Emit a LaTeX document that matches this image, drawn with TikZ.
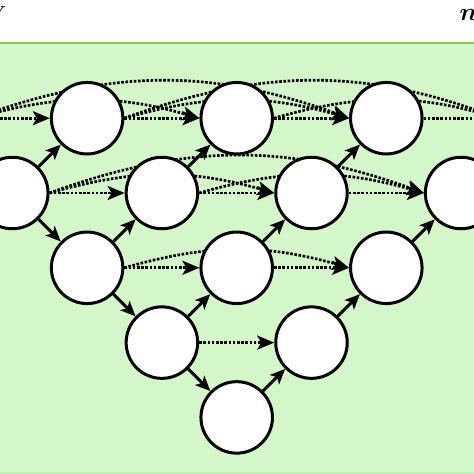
\documentclass[tikz,border=0pt]{standalone}
\usepackage{amsmath}
\usetikzlibrary{arrows.meta}
\pgfdeclarelayer{bgzero}
\pgfdeclarelayer{edges}
\pgfsetlayers{bgzero,edges,main}
\definecolor{bggreen}{RGB}{212,247,201}
\definecolor{linegreen}{RGB}{128,204,92}
\definecolor{botgreen}{RGB}{192,244,170}
\begin{document}
\begin{tikzpicture}[x=1pt,y=-1pt,
  st/.style={circle,draw=black,fill=white,line width=3pt,minimum size=71.5pt,inner sep=0pt},
  solidarr/.style={line width=3pt,-{Stealth[length=15pt,width=13pt,inset=3.5pt]}},
  dotarr/.style={line width=2.7pt,dash pattern=on 2.6pt off 1.6pt,-{Stealth[length=17pt,width=14pt,inset=4pt]}},
  skiptwo/.style={dotarr,bend left=16},
  skipthree/.style={dotarr,bend left=20}]
\useasboundingbox (0,0) rectangle (474,474);
\begin{pgfonlayer}{bgzero}
\fill[bggreen] (-10,43) rectangle (484,480);
\draw[linegreen,line width=2.2pt] (-10,43) -- (484,43);
\draw[botgreen,line width=3pt] (-10,473.5) -- (484,473.5);
\end{pgfonlayer}
\node[anchor=base east,font=\fontsize{19}{22}\selectfont] (lv) at (9.5,18) {$\boldsymbol{V}$};
\node[anchor=base west,font=\fontsize{27}{32}\selectfont] (ln) at (456,20.5) {$\boldsymbol{n}$};
% row 1
\node[st] (a1) at (-62.5,118.2) {};
\node[st] (a2) at (87.1,118.2) {};
\node[st] (a3) at (236.7,118.2) {};
\node[st] (a4) at (386.3,118.2) {};
\node[st] (a5) at (535.9,118.2) {};
% row 2
\node[st] (b1) at (12.3,193) {};
\node[st] (b2) at (161.9,193) {};
\node[st] (b3) at (311.5,193) {};
\node[st] (b4) at (461.1,193) {};
% row 3
\node[st] (c1) at (87.1,267.8) {};
\node[st] (c2) at (236.7,267.8) {};
\node[st] (c3) at (386.3,267.8) {};
% row 4
\node[st] (d1) at (161.9,342.6) {};
\node[st] (d2) at (311.5,342.6) {};
% row 5
\node[st] (e1) at (236.7,417.4) {};
% solid diagonal arrows
\draw[solidarr] (b1) -- (a2);
\draw[solidarr] (b1) -- (c1);
\draw[solidarr] (c1) -- (b2);
\draw[solidarr] (c1) -- (d1);
\draw[solidarr] (d1) -- (c2);
\draw[solidarr] (d1) -- (e1);
\draw[solidarr] (e1) -- (d2);
\draw[solidarr] (d2) -- (c3);
\draw[solidarr] (c2) -- (b3);
\draw[solidarr] (c3) -- (b4);
\draw[solidarr] (b2) -- (a3);
\draw[solidarr] (b3) -- (a4);
\begin{pgfonlayer}{edges}
% straight dotted
\draw[dotarr] (a1.east) -- (a2.west);
\draw[dotarr] (a2.east) -- (a3.west);
\draw[dotarr] (a3.east) -- (a4.west);
\draw[dotarr] (a4.east) -- (a5.west);
\draw[dotarr] (b1.east) -- (b2.west);
\draw[dotarr] (b2.east) -- (b3.west);
\draw[dotarr] (b3.east) -- (b4.west);
\draw[dotarr] (c1.east) -- (c2.west);
\draw[dotarr] (c2.east) -- (c3.west);
\draw[dotarr] (d1.east) -- (d2.west);
% skip two
\draw[skiptwo] (a1.east) to (a3.west);
\draw[skiptwo] (a2.east) to (a4.west);
\draw[skiptwo] (a3.east) to (a5.west);
\draw[skiptwo] (b1.east) to (b3.west);
\draw[skiptwo] (b2.east) to (b4.west);
\draw[skiptwo] (c1.east) to (c3.west);
% skip three
\draw[skipthree] (a1.east) to (a4.west);
\draw[skipthree] (a2.east) to (a5.west);
\draw[skipthree] (b1.east) to (b4.west);
\end{pgfonlayer}
\end{tikzpicture}
\end{document}
